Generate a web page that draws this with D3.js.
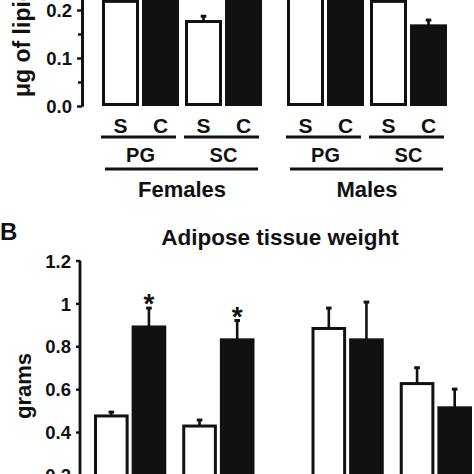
<!DOCTYPE html>
<html>
<head>
<meta charset="utf-8">
<script src="https://cdn.jsdelivr.net/npm/d3@7"></script>
<style>
  html, body { margin: 0; padding: 0; background: #fff; }
  svg { display: block; }
  text { font-family: "Liberation Sans", Arial, sans-serif; font-weight: bold; fill: #111; }
</style>
</head>
<body>
<svg id="chart" width="474" height="474"></svg>
<script>
// ---------- data ----------
const sexes = ["Females", "Males"];
const sites = ["PG", "SC"];
const treatments = ["S", "C"];
// order: F-PG-S, F-PG-C, F-SC-S, F-SC-C, M-PG-S, M-PG-C, M-SC-S, M-SC-C
const lipidMeans  = [0.218, 0.265, 0.176, 0.262, 0.255, 0.262, 0.218, 0.167];
const lipidErrors = [0.012, 0.015, 0.011, 0.014, 0.012, 0.015, 0.012, 0.012];
const weightMeans  = [0.475, 0.890, 0.428, 0.830, 0.883, 0.830, 0.626, 0.513];
const weightErrors = [0.018, 0.088, 0.028, 0.090, 0.095, 0.176, 0.074, 0.087];
const weightStars  = [false, true, false, true, false, false, false, false];
const lipidTicks = [0, 0.1, 0.2];
const lipidTickLabels = ["0.0", "0.1", "0.2"];
const lipidMinorTicks = [0.05, 0.15, 0.25];
const weightTicks = [0.2, 0.4, 0.6, 0.8, 1, 1.2];
const weightTickLabels = ["0.2", "0.4", "0.6", "0.8", "1", "1.2"];
const lipidLabel = "μg of lipid";
const weightLabel = "grams";
const panelBTitle = "Adipose tissue weight";

const INK = "#111";
const svg = d3.select("#chart");

const rows = sexes.flatMap(sex => sites.flatMap(site => treatments.map(trt => ({sex, site, trt}))));

function nested(range, gGap, sGap, tGap) {
  const total = range[1] - range[0];
  const gw = (total - gGap) / 2;
  const sx = d3.scaleBand().domain(sexes).range(range).paddingInner(gGap / (gw + gGap)).paddingOuter(0);
  const sw = (sx.bandwidth() - sGap) / 2;
  const st = d3.scaleBand().domain(sites).range([0, sx.bandwidth()]).paddingInner(sGap / (sw + sGap)).paddingOuter(0);
  const tw = (st.bandwidth() - tGap) / 2;
  const tr = d3.scaleBand().domain(treatments).range([0, st.bandwidth()]).paddingInner(tGap / (tw + tGap)).paddingOuter(0);
  return {sx, st, tr, barX: d => sx(d.sex) + st(d.site) + tr(d.trt)};
}

function drawBars(g, data, x, y, bw) {
  const bars = g.selectAll("g.bar").data(data).join("g").attr("class", "bar");
  bars.append("line")
    .attr("x1", d => x.barX(d) + bw / 2).attr("x2", d => x.barX(d) + bw / 2)
    .attr("y1", d => y(d.mean)).attr("y2", d => y(d.mean + d.err))
    .attr("stroke", INK).attr("stroke-width", 2.6);
  bars.append("line")
    .attr("x1", d => x.barX(d) + bw / 2 - 2.8).attr("x2", d => x.barX(d) + bw / 2 + 2.8)
    .attr("y1", d => y(d.mean + d.err)).attr("y2", d => y(d.mean + d.err))
    .attr("stroke", INK).attr("stroke-width", 3);
  bars.append("rect")
    .attr("x", d => x.barX(d) + 1.5)
    .attr("width", bw - 3)
    .attr("y", d => y(d.mean))
    .attr("height", d => y(0) - y(d.mean) - 1.5)
    .attr("fill", d => d.trt === "S" ? "#fff" : INK)
    .attr("stroke", INK).attr("stroke-width", 3);
}

function styleAxis(g) {
  g.select(".domain").attr("stroke", INK).attr("stroke-width", 2.8);
  g.selectAll(".tick line").attr("stroke", INK).attr("stroke-width", 2.4);
  g.selectAll(".tick text").attr("fill", INK).style("font-size", "18.5px").style("font-weight", "bold")
    .style("font-family", '"Liberation Sans", Arial, sans-serif');
}

// ---------- Panel A (lipid) ----------
const xA = nested([102, 447], 25, 6, 3);
const barWA = xA.tr.bandwidth();
const yA = d3.scaleLinear().domain([0, 0.3]).range([106, -38]);
const dataA = rows.map((r, i) => ({...r, mean: lipidMeans[i], err: lipidErrors[i]}));

const axA = svg.append("g").attr("transform", "translate(82,0)");
axA.call(d3.axisLeft(yA).tickValues(lipidTicks).tickFormat((d, i) => lipidTickLabels[i]).tickSize(5).tickSizeOuter(0).tickPadding(5));
styleAxis(axA);
const axAm = svg.append("g").attr("transform", "translate(82,0)");
axAm.call(d3.axisLeft(yA).tickValues(lipidMinorTicks).tickFormat("").tickSize(4).tickSizeOuter(0));
styleAxis(axAm);
axA.selectAll(".tick text").attr("dy", "0.36em");

drawBars(svg.append("g"), dataA, xA, yA, barWA);

svg.append("text").attr("transform", "translate(30,97) rotate(-90)")
  .attr("text-anchor", "start").style("font-size", "23px").text(lipidLabel);

svg.append("g").selectAll("text").data(dataA).join("text")
  .attr("x", d => xA.barX(d) + barWA / 2).attr("y", 133)
  .attr("text-anchor", "middle").style("font-size", "21px").text(d => d.trt);

const siteRows = sexes.flatMap(sex => sites.map(site => ({sex, site})));
svg.append("g").selectAll("line").data(siteRows).join("line")
  .attr("x1", d => xA.sx(d.sex) + xA.st(d.site) - 1)
  .attr("x2", d => xA.sx(d.sex) + xA.st(d.site) + xA.st.bandwidth() - 3)
  .attr("y1", 137).attr("y2", 137).attr("stroke", INK).attr("stroke-width", 3);
svg.append("g").selectAll("text").data(siteRows).join("text")
  .attr("x", d => xA.sx(d.sex) + xA.st(d.site) + xA.st.bandwidth() / 2).attr("y", 162)
  .attr("text-anchor", "middle").style("font-size", "20px").text(d => d.site);
svg.append("g").selectAll("line").data(sexes).join("line")
  .attr("x1", d => xA.sx(d) + 3).attr("x2", d => xA.sx(d) + xA.sx.bandwidth() - 4)
  .attr("y1", 169).attr("y2", 169).attr("stroke", INK).attr("stroke-width", 3);
svg.append("g").selectAll("text").data(sexes).join("text")
  .attr("x", d => xA.sx(d) + xA.sx.bandwidth() / 2).attr("y", 197)
  .attr("text-anchor", "middle").style("font-size", "22px").text(d => d);

// ---------- Panel B (weight) ----------
svg.append("text").attr("x", 0).attr("y", 240).style("font-size", "24px").text("B");
svg.append("text").attr("x", 280).attr("y", 245).attr("text-anchor", "middle")
  .style("font-size", "22.5px").text(panelBTitle);

const xB = nested([94, 472], 57, 16, 3);
const barWB = xB.tr.bandwidth();
const yB = d3.scaleLinear().domain([0, 1.2]).range([517.8, 260.5]);
const dataB = rows.map((r, i) => ({...r, mean: weightMeans[i], err: weightErrors[i], star: weightStars[i]}));

const axB = svg.append("g").attr("transform", "translate(80,0)");
axB.call(d3.axisLeft(yB).tickValues(weightTicks).tickFormat((d, i) => weightTickLabels[i]).tickSize(4).tickSizeOuter(0).tickPadding(5));
styleAxis(axB);
axB.select(".domain").attr("d", `M0,${yB(1.2)}V${yB(0)}`);
axB.selectAll(".tick text").attr("dy", "0.36em");

drawBars(svg.append("g"), dataB, xB, yB, barWB);

svg.append("g").selectAll("text").data(dataB.filter(d => d.star)).join("text")
  .attr("x", d => xB.barX(d) + barWB / 2).attr("y", d => yB(d.mean + d.err) + 5)
  .attr("text-anchor", "middle").style("font-size", "28px").text("*");

svg.append("text").attr("transform", "translate(31,386) rotate(-90)")
  .attr("text-anchor", "middle").style("font-size", "22px").text(weightLabel);
</script>
</body>
</html>
